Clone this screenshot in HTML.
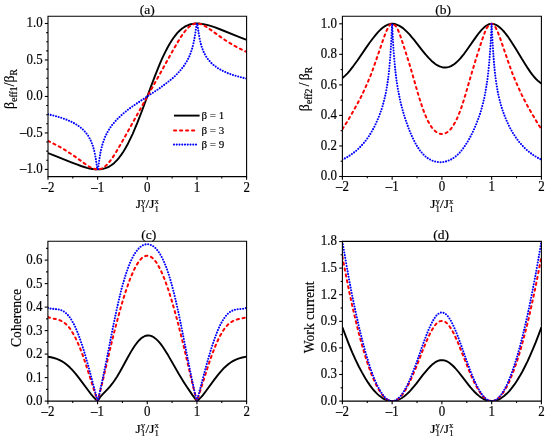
<!DOCTYPE html><html><head><meta charset="utf-8"><style>html,body{margin:0;padding:0;background:#fff;}svg{display:block;}text{font-family:"Liberation Serif", "DejaVu Serif", serif;fill:#000;stroke:#000;stroke-width:0.18px;}</style></head><body>
<svg width="550" height="439" viewBox="0 0 550 439">
<rect width="550" height="439" fill="#fff"/>
<defs>
<clipPath id="clipa"><rect x="48.00" y="15.30" width="198.60" height="161.30"/></clipPath>
<clipPath id="clipb"><rect x="342.40" y="15.30" width="199.00" height="161.20"/></clipPath>
<clipPath id="clipc"><rect x="47.90" y="240.30" width="198.70" height="160.80"/></clipPath>
<clipPath id="clipd"><rect x="342.40" y="240.40" width="199.00" height="160.70"/></clipPath>
</defs>
<g clip-path="url(#clipa)">
<path d="M48.0 153.1L55.2 155.9L71.3 162.3L77.5 164.7L81.0 166.0L84.2 167.0L87.0 167.8L89.7 168.5L92.7 169.0L95.5 169.3L98.1 169.4L100.6 169.2L103.1 168.8L105.3 168.2L107.6 167.3L109.6 166.3L110.8 165.5L112.0 164.7L114.3 162.9L115.5 161.7L116.8 160.4L119.0 157.8L121.2 154.9L123.5 151.5L125.7 147.8L128.2 143.2L130.4 138.7L132.7 133.8L134.9 128.7L137.4 122.7L142.1 110.5L151.3 85.7L155.2 75.3L159.2 65.4L161.2 60.7L162.9 56.9L165.2 52.2L167.2 48.3L169.4 44.2L171.4 41.0L173.4 38.0L175.6 35.1L177.6 32.7L179.8 30.5L182.1 28.6L183.3 27.7L184.5 26.9L185.8 26.2L187.0 25.6L188.3 25.1L189.8 24.5L191.0 24.2L192.5 23.9L194.0 23.7L195.4 23.5L196.9 23.5L198.4 23.5L201.7 23.9L204.6 24.4L207.9 25.2L211.3 26.2L215.1 27.4L221.8 30.0L238.2 36.6L246.6 39.8" stroke="#000" stroke-width="1.9" fill="none" stroke-linejoin="round"/>
<path d="M48.0 141.0L52.5 143.1L56.7 145.2L60.9 147.5L64.9 149.9L68.6 152.3L72.6 154.9L83.3 162.6L86.2 164.7L89.2 166.6L91.9 168.0L93.7 168.7L95.5 169.2L97.1 169.4L98.7 169.3L100.4 169.0L101.9 168.5L103.4 167.7L104.8 166.6L106.3 165.3L107.8 163.8L109.3 162.0L110.8 160.1L112.3 158.0L114.0 155.4L118.0 148.9L123.0 140.1L138.9 111.5L157.5 78.3L172.6 51.0L176.3 44.5L179.3 39.5L181.3 36.4L183.0 33.8L184.8 31.5L186.5 29.4L188.3 27.6L189.8 26.3L191.2 25.2L192.7 24.4L194.0 24.0L195.2 23.6L196.5 23.5L197.8 23.5L199.2 23.7L200.7 24.1L202.2 24.7L203.7 25.4L205.9 26.6L208.6 28.4L221.8 37.8L225.7 40.5L229.5 42.8L233.7 45.4L237.9 47.7L242.1 49.8L246.6 51.9" stroke="#f00" stroke-width="2" fill="none" stroke-dasharray="2.2 3.8" stroke-linecap="round"/>
<path d="M48.0 114.3L54.5 115.8L60.4 117.5L63.1 118.4L65.9 119.4L68.4 120.4L70.6 121.4L72.8 122.5L74.8 123.6L76.8 124.8L78.5 126.0L80.3 127.3L81.8 128.5L83.3 129.9L84.7 131.4L86.0 132.9L87.2 134.5L88.2 135.9L89.2 137.6L90.2 139.4L91.2 141.5L91.9 143.3L92.7 145.4L93.9 149.5L94.9 153.9L95.8 158.9L97.1 167.8L97.4 169.1L97.6 169.3L97.7 169.4L97.8 169.3L97.9 168.9L98.2 167.6L99.6 157.8L100.6 151.8L101.1 149.5L101.9 146.5L102.6 143.8L103.4 141.5L104.4 138.8L105.3 136.5L106.6 133.9L107.8 131.5L109.1 129.5L110.6 127.2L112.0 125.2L113.8 123.0L115.3 121.3L117.0 119.4L120.5 116.0L124.5 112.6L128.9 109.0L133.1 106.0L137.9 102.7L153.8 92.2L159.5 88.3L164.9 84.4L169.6 80.7L171.9 78.9L174.1 76.9L176.1 75.0L177.8 73.2L179.6 71.3L181.3 69.3L182.8 67.4L184.3 65.3L185.5 63.4L186.8 61.4L187.8 59.5L188.8 57.5L189.8 55.3L190.5 53.4L191.2 51.4L192.0 49.1L193.2 44.5L194.2 39.8L195.1 34.7L196.4 25.4L196.7 24.1L196.9 23.5L197.0 23.5L197.2 23.8L197.5 25.1L198.8 34.0L199.7 39.0L200.7 43.4L201.9 47.5L202.7 49.6L203.4 51.4L204.4 53.5L205.4 55.3L206.4 57.0L207.4 58.4L208.6 60.0L209.9 61.5L211.3 63.0L212.8 64.4L214.3 65.6L216.1 66.9L217.8 68.1L219.8 69.3L221.8 70.4L224.0 71.5L226.2 72.5L228.7 73.5L231.5 74.5L234.2 75.4L240.1 77.1L246.6 78.6" stroke="#00f" stroke-width="2.1" fill="none" stroke-dasharray="0 2.75" stroke-linecap="round"/>
</g>
<path d="M48.00 16.30 H246.60 V176.60 H48.00 Z" fill="none" stroke="#000" stroke-width="1.1"/>
<path d="M48.00 176.60V179.80" stroke="#000" stroke-width="1.1"/>
<path d="M97.65 176.60V179.80" stroke="#000" stroke-width="1.1"/>
<path d="M147.30 176.60V179.80" stroke="#000" stroke-width="1.1"/>
<path d="M196.95 176.60V179.80" stroke="#000" stroke-width="1.1"/>
<path d="M246.60 176.60V179.80" stroke="#000" stroke-width="1.1"/>
<path d="M72.83 176.60V178.40" stroke="#000" stroke-width="1.1"/>
<path d="M122.47 176.60V178.40" stroke="#000" stroke-width="1.1"/>
<path d="M172.12 176.60V178.40" stroke="#000" stroke-width="1.1"/>
<path d="M221.78 176.60V178.40" stroke="#000" stroke-width="1.1"/>
<path d="M44.80 169.40H48.00" stroke="#000" stroke-width="1.1"/>
<path d="M44.80 132.93H48.00" stroke="#000" stroke-width="1.1"/>
<path d="M44.80 96.45H48.00" stroke="#000" stroke-width="1.1"/>
<path d="M44.80 59.98H48.00" stroke="#000" stroke-width="1.1"/>
<path d="M44.80 23.50H48.00" stroke="#000" stroke-width="1.1"/>
<path d="M46.20 160.28H48.00" stroke="#000" stroke-width="1.1"/>
<path d="M46.20 151.16H48.00" stroke="#000" stroke-width="1.1"/>
<path d="M46.20 142.04H48.00" stroke="#000" stroke-width="1.1"/>
<path d="M46.20 123.81H48.00" stroke="#000" stroke-width="1.1"/>
<path d="M46.20 114.69H48.00" stroke="#000" stroke-width="1.1"/>
<path d="M46.20 105.57H48.00" stroke="#000" stroke-width="1.1"/>
<path d="M46.20 87.33H48.00" stroke="#000" stroke-width="1.1"/>
<path d="M46.20 78.21H48.00" stroke="#000" stroke-width="1.1"/>
<path d="M46.20 69.09H48.00" stroke="#000" stroke-width="1.1"/>
<path d="M46.20 50.86H48.00" stroke="#000" stroke-width="1.1"/>
<path d="M46.20 41.74H48.00" stroke="#000" stroke-width="1.1"/>
<path d="M46.20 32.62H48.00" stroke="#000" stroke-width="1.1"/>
<text transform="translate(48.00 191.50) scale(0.93 1)" font-size="13.9" text-anchor="middle">–2</text>
<text transform="translate(97.65 191.50) scale(0.93 1)" font-size="13.9" text-anchor="middle">–1</text>
<text transform="translate(147.30 191.50) scale(0.93 1)" font-size="13.9" text-anchor="middle">0</text>
<text transform="translate(196.95 191.50) scale(0.93 1)" font-size="13.9" text-anchor="middle">1</text>
<text transform="translate(246.60 191.50) scale(0.93 1)" font-size="13.9" text-anchor="middle">2</text>
<text transform="translate(42.60 173.30) scale(0.93 1)" font-size="13.9" text-anchor="end">–1.0</text>
<text transform="translate(42.60 136.83) scale(0.93 1)" font-size="13.9" text-anchor="end">–0.5</text>
<text transform="translate(42.60 100.35) scale(0.93 1)" font-size="13.9" text-anchor="end">0.0</text>
<text transform="translate(42.60 63.88) scale(0.93 1)" font-size="13.9" text-anchor="end">0.5</text>
<text transform="translate(42.60 27.40) scale(0.93 1)" font-size="13.9" text-anchor="end">1.0</text>
<text x="147.30" y="13.90" font-size="13.5" text-anchor="middle">(a)</text>
<text x="147.30" y="208.20" font-size="13.5" text-anchor="middle">J<tspan font-size="8.8" dy="-4.5">y</tspan><tspan font-size="8.8" dx="-4.3" dy="8">1</tspan><tspan dy="-3.5">/J</tspan><tspan font-size="8.8" dy="-4.5">x</tspan><tspan font-size="8.8" dx="-4.3" dy="8">1</tspan></text>
<text transform="translate(13.9 108.9) rotate(-90)" font-size="14">β<tspan font-size="9.6" dy="3">eff1</tspan><tspan dy="-3">/β</tspan><tspan font-size="9.6" dy="3">R</tspan></text>
<path d="M174.0 115.6H199.6" stroke="#000" stroke-width="1.9" fill="none" stroke-linejoin="round"/>
<text x="201.50" y="118.80" font-size="11">β = 1</text>
<path d="M174.0 130.4H196.5" stroke="#f00" stroke-width="2" fill="none" stroke-dasharray="2.2 3.8" stroke-linecap="round"/>
<text x="201.50" y="133.60" font-size="11">β = 3</text>
<path d="M174.0 144.6H197.5" stroke="#00f" stroke-width="2.1" fill="none" stroke-dasharray="0 2.75" stroke-linecap="round"/>
<text x="201.50" y="147.80" font-size="11">β = 9</text>
<g clip-path="url(#clipb)">
<path d="M342.4 78.1L344.9 75.9L347.5 73.3L350.0 70.4L352.5 67.2L355.0 63.8L357.6 60.2L366.0 47.9L369.4 43.0L372.8 38.5L376.1 34.3L377.8 32.4L379.5 30.6L382.0 28.3L383.7 27.0L385.4 25.9L387.1 25.0L387.9 24.6L389.6 24.1L391.3 23.8L392.8 23.8L394.7 24.0L396.5 24.6L398.4 25.3L400.3 26.4L402.2 27.6L404.0 29.1L405.9 30.8L407.8 32.7L409.7 34.7L411.5 36.9L414.1 39.9L422.2 50.3L425.3 54.2L428.4 57.7L431.6 60.9L433.5 62.5L435.3 64.0L437.2 65.2L438.5 65.9L440.3 66.7L442.2 67.2L444.1 67.5L445.3 67.5L446.6 67.4L447.8 67.2L449.1 66.8L451.0 66.1L452.2 65.4L454.1 64.2L455.4 63.2L457.2 61.6L458.5 60.4L460.4 58.4L462.2 56.1L464.1 53.8L467.2 49.5L474.1 39.6L476.6 36.1L479.1 32.8L481.6 29.9L482.9 28.6L484.1 27.4L485.4 26.3L486.6 25.5L487.9 24.8L489.1 24.2L490.4 23.9L491.6 23.8L492.5 23.8L494.2 24.2L495.9 24.8L497.6 25.8L499.2 27.0L500.9 28.4L502.6 30.1L504.3 32.0L506.0 34.1L507.7 36.3L511.0 41.2L515.3 47.9L522.0 59.1L525.4 64.5L527.9 68.4L530.4 72.1L532.1 74.4L533.8 76.5L536.3 79.3L538.0 80.9L538.9 81.6L540.6 82.9L541.4 83.4" stroke="#000" stroke-width="1.9" fill="none" stroke-linejoin="round"/>
<path d="M342.4 129.1L345.5 124.3L348.5 119.4L351.3 114.6L354.1 109.7L356.8 104.9L359.4 100.0L361.9 95.1L363.8 91.1L366.1 86.0L368.3 80.9L370.5 75.7L372.5 70.4L376.2 60.0L383.1 39.8L384.6 35.6L386.0 32.1L386.8 30.2L387.8 28.2L388.5 26.9L389.3 25.8L390.0 24.9L390.7 24.3L391.4 23.9L392.1 23.8L393.7 24.5L394.6 25.1L395.4 25.8L396.3 27.0L397.4 28.8L398.3 30.7L399.3 33.1L400.3 35.9L401.7 39.9L403.5 45.4L409.0 62.7L412.0 72.8L417.7 92.6L420.3 101.2L423.0 109.2L425.3 115.2L426.7 118.4L428.1 121.3L429.1 123.1L430.5 125.5L431.9 127.6L433.4 129.3L434.8 130.8L436.3 132.0L437.3 132.6L438.7 133.4L439.7 133.7L441.2 134.0L442.6 134.0L443.6 133.8L445.1 133.4L446.1 132.9L447.5 132.0L448.5 131.3L449.9 129.9L450.9 128.8L452.4 126.9L453.3 125.5L454.7 123.1L455.7 121.3L457.1 118.4L458.9 114.1L460.8 109.2L462.6 104.0L465.6 94.1L471.8 72.8L475.2 61.5L480.6 44.4L482.4 39.0L483.8 35.1L484.8 32.4L485.7 30.2L486.6 28.4L487.6 26.8L488.6 25.6L489.3 24.9L490.1 24.5L491.6 23.8L492.4 23.9L493.1 24.3L493.8 24.9L494.5 25.8L495.3 26.9L496.0 28.2L497.0 30.2L497.8 32.1L499.2 35.6L500.7 39.8L507.6 60.0L511.3 70.4L513.3 75.7L515.5 80.9L517.7 86.0L520.0 91.1L521.9 95.1L524.4 100.0L527.0 104.9L529.7 109.7L532.5 114.6L535.3 119.4L538.3 124.3L541.4 129.1" stroke="#f00" stroke-width="2" fill="none" stroke-dasharray="2.2 3.8" stroke-linecap="round"/>
<path d="M342.4 159.6L343.6 159.1L345.5 158.1L348.5 156.4L351.3 154.5L354.1 152.4L356.8 150.2L359.4 147.8L361.9 145.1L364.3 142.4L366.6 139.4L368.8 136.3L370.9 133.0L372.9 129.5L374.8 125.9L376.9 121.3L378.6 117.3L380.2 113.2L381.7 108.9L382.8 105.3L383.8 101.5L384.8 97.5L385.8 93.2L386.6 88.6L387.4 83.7L388.0 79.8L389.0 71.5L389.6 64.9L390.3 56.5L391.3 40.8L392.1 23.8L392.8 37.0L393.5 49.8L394.5 61.6L395.4 71.3L396.5 80.3L397.8 88.6L399.3 96.2L400.0 99.8L401.1 104.4L402.3 108.9L403.5 113.2L404.8 117.4L406.1 121.4L407.9 126.3L409.3 130.1L410.8 133.8L412.4 137.3L414.0 140.6L415.6 143.7L417.3 146.6L418.6 148.5L419.9 150.4L421.7 152.6L423.0 154.1L424.9 155.9L426.2 157.1L427.6 158.1L429.1 159.0L430.5 159.8L431.9 160.5L433.4 161.0L434.8 161.5L436.8 161.9L438.2 162.1L440.2 162.2L442.1 162.1L443.6 161.9L445.6 161.5L447.0 161.1L448.5 160.6L449.9 160.0L451.4 159.3L452.8 158.4L454.3 157.4L455.7 156.4L457.1 155.2L458.5 153.9L459.9 152.4L461.2 150.9L462.6 149.2L463.9 147.4L466.5 143.5L469.0 139.3L471.4 134.8L473.7 130.0L475.9 124.9L478.0 119.6L480.0 114.0L481.5 109.0L482.9 103.7L484.3 97.9L485.5 91.7L486.6 84.8L487.5 79.0L488.4 71.1L489.2 62.8L489.9 54.2L490.5 45.8L491.1 35.0L491.6 23.8L492.5 40.8L493.5 56.5L494.2 64.9L494.8 71.5L495.8 79.8L496.4 83.7L497.2 88.6L498.0 93.2L499.0 97.5L500.0 101.5L501.0 105.3L502.1 108.9L503.6 113.2L505.2 117.3L506.9 121.3L509.0 125.9L510.9 129.5L512.9 133.0L515.0 136.3L517.2 139.4L519.5 142.4L521.9 145.1L524.4 147.8L527.0 150.2L529.7 152.4L532.5 154.5L535.3 156.4L538.3 158.1L540.2 159.1L541.4 159.6" stroke="#00f" stroke-width="2.1" fill="none" stroke-dasharray="0 2.75" stroke-linecap="round"/>
</g>
<path d="M342.40 16.30 H541.40 V176.50 H342.40 Z" fill="none" stroke="#000" stroke-width="1.1"/>
<path d="M342.40 176.50V179.70" stroke="#000" stroke-width="1.1"/>
<path d="M392.15 176.50V179.70" stroke="#000" stroke-width="1.1"/>
<path d="M441.90 176.50V179.70" stroke="#000" stroke-width="1.1"/>
<path d="M491.65 176.50V179.70" stroke="#000" stroke-width="1.1"/>
<path d="M541.40 176.50V179.70" stroke="#000" stroke-width="1.1"/>
<path d="M367.27 176.50V178.30" stroke="#000" stroke-width="1.1"/>
<path d="M417.02 176.50V178.30" stroke="#000" stroke-width="1.1"/>
<path d="M466.77 176.50V178.30" stroke="#000" stroke-width="1.1"/>
<path d="M516.52 176.50V178.30" stroke="#000" stroke-width="1.1"/>
<path d="M339.20 176.50H342.40" stroke="#000" stroke-width="1.1"/>
<path d="M339.20 145.96H342.40" stroke="#000" stroke-width="1.1"/>
<path d="M339.20 115.42H342.40" stroke="#000" stroke-width="1.1"/>
<path d="M339.20 84.88H342.40" stroke="#000" stroke-width="1.1"/>
<path d="M339.20 54.34H342.40" stroke="#000" stroke-width="1.1"/>
<path d="M339.20 23.80H342.40" stroke="#000" stroke-width="1.1"/>
<path d="M340.60 161.23H342.40" stroke="#000" stroke-width="1.1"/>
<path d="M340.60 130.69H342.40" stroke="#000" stroke-width="1.1"/>
<path d="M340.60 100.15H342.40" stroke="#000" stroke-width="1.1"/>
<path d="M340.60 69.61H342.40" stroke="#000" stroke-width="1.1"/>
<path d="M340.60 39.07H342.40" stroke="#000" stroke-width="1.1"/>
<text transform="translate(342.40 191.40) scale(0.93 1)" font-size="13.9" text-anchor="middle">–2</text>
<text transform="translate(392.15 191.40) scale(0.93 1)" font-size="13.9" text-anchor="middle">–1</text>
<text transform="translate(441.90 191.40) scale(0.93 1)" font-size="13.9" text-anchor="middle">0</text>
<text transform="translate(491.65 191.40) scale(0.93 1)" font-size="13.9" text-anchor="middle">1</text>
<text transform="translate(541.40 191.40) scale(0.93 1)" font-size="13.9" text-anchor="middle">2</text>
<text transform="translate(337.00 180.40) scale(0.93 1)" font-size="13.9" text-anchor="end">0.0</text>
<text transform="translate(337.00 149.86) scale(0.93 1)" font-size="13.9" text-anchor="end">0.2</text>
<text transform="translate(337.00 119.32) scale(0.93 1)" font-size="13.9" text-anchor="end">0.4</text>
<text transform="translate(337.00 88.78) scale(0.93 1)" font-size="13.9" text-anchor="end">0.6</text>
<text transform="translate(337.00 58.24) scale(0.93 1)" font-size="13.9" text-anchor="end">0.8</text>
<text transform="translate(337.00 27.70) scale(0.93 1)" font-size="13.9" text-anchor="end">1.0</text>
<text x="443.20" y="13.90" font-size="13.5" text-anchor="middle">(b)</text>
<text x="441.90" y="208.10" font-size="13.5" text-anchor="middle">J<tspan font-size="8.8" dy="-4.5">y</tspan><tspan font-size="8.8" dx="-4.3" dy="8">1</tspan><tspan dy="-3.5">/J</tspan><tspan font-size="8.8" dy="-4.5">x</tspan><tspan font-size="8.8" dx="-4.3" dy="8">1</tspan></text>
<text transform="translate(308.6 111.2) rotate(-90)" font-size="14">β<tspan font-size="9.6" dy="3">eff2</tspan><tspan dy="-3" dx="-1.2"> /</tspan><tspan dx="-1.2"> β</tspan><tspan font-size="9.6" dy="3">R</tspan></text>
<g clip-path="url(#clipc)">
<path d="M47.9 356.8L51.0 357.3L54.0 358.0L56.8 358.9L59.1 359.8L61.2 360.9L63.9 362.5L65.9 364.0L68.3 366.0L70.2 367.8L72.0 369.7L75.5 373.6L77.5 376.1L79.8 379.1L87.9 390.0L91.2 394.3L93.0 396.5L94.6 398.2L96.1 399.8L97.6 401.1L99.1 398.7L100.8 396.3L102.8 394.1L107.4 389.3L109.9 386.6L112.2 383.7L114.7 380.2L117.0 376.7L119.8 372.0L122.3 367.5L128.0 357.0L131.2 351.4L133.0 348.4L134.4 346.2L135.9 344.2L137.3 342.4L139.2 340.2L140.7 338.8L141.6 338.0L142.6 337.3L144.1 336.5L145.0 336.0L146.0 335.7L147.5 335.5L149.0 335.5L149.9 335.6L150.9 335.9L152.4 336.5L153.8 337.3L155.3 338.4L156.7 339.6L158.2 341.1L159.6 342.7L161.0 344.4L162.9 347.0L165.6 351.2L168.3 355.6L179.0 374.2L184.0 382.4L186.8 386.8L189.6 390.9L192.5 395.1L196.9 401.1L198.3 400.0L199.6 398.7L201.1 397.1L202.7 395.3L206.0 391.0L214.3 379.6L218.2 374.6L220.3 372.1L222.5 369.6L224.3 367.7L226.2 366.0L228.6 364.0L230.6 362.5L233.3 360.9L235.4 359.8L237.7 358.9L240.0 358.2L242.3 357.5L246.6 356.6" stroke="#000" stroke-width="1.9" fill="none" stroke-linejoin="round"/>
<path d="M47.9 317.0L49.1 317.5L51.0 318.1L56.8 319.3L59.1 320.0L61.2 320.9L63.3 322.1L64.9 323.2L65.9 324.1L66.9 325.0L68.3 326.6L69.3 327.7L70.7 329.6L72.9 333.2L75.1 337.1L77.5 342.2L80.2 348.6L82.7 355.2L84.7 360.9L87.1 368.2L94.9 392.8L97.6 401.1L99.3 394.7L101.4 386.5L110.5 347.4L112.9 337.4L115.5 327.2L118.2 316.9L120.6 308.1L123.1 299.5L125.3 292.6L128.0 284.7L130.2 278.6L132.6 273.0L134.9 268.1L136.3 265.5L137.3 263.9L138.7 261.7L139.7 260.5L141.2 258.8L142.1 257.9L143.1 257.2L144.1 256.6L145.5 256.0L147.0 255.8L148.0 255.8L149.5 256.2L150.4 256.6L151.9 257.5L153.3 258.8L154.8 260.5L155.8 261.7L157.2 263.9L158.6 266.3L160.1 269.0L161.5 272.0L162.9 275.2L164.3 278.6L166.1 283.4L168.8 291.2L171.8 300.9L174.7 311.0L177.5 321.3L180.1 331.6L183.3 344.6L193.3 387.3L195.3 395.2L196.9 401.1L199.6 392.8L207.4 368.2L209.8 360.9L211.8 355.2L214.3 348.6L217.0 342.2L219.4 337.1L221.6 333.2L223.8 329.6L225.2 327.7L226.2 326.6L227.6 325.0L228.6 324.1L229.6 323.2L231.2 322.1L233.3 320.9L235.4 320.0L237.7 319.3L243.5 318.1L245.4 317.5L246.6 317.0" stroke="#f00" stroke-width="2" fill="none" stroke-dasharray="2.2 3.8" stroke-linecap="round"/>
<path d="M47.9 307.9L49.1 308.3L51.0 308.7L56.8 309.2L59.1 309.6L60.2 309.8L61.2 310.2L62.3 310.7L63.3 311.2L64.9 312.3L65.9 313.1L66.9 314.0L68.3 315.6L69.3 316.8L70.7 318.7L72.0 320.9L73.4 323.3L74.7 325.8L75.9 328.5L78.3 334.3L80.9 341.6L83.4 349.1L85.9 357.6L88.5 366.7L97.6 401.1L99.0 395.6L100.3 389.8L103.2 376.4L106.0 362.8L112.9 327.6L116.6 309.9L118.6 301.2L120.2 294.4L121.8 287.9L123.6 281.7L125.7 274.6L128.0 268.1L130.2 262.4L132.1 258.4L133.0 256.6L134.4 254.1L135.4 252.6L136.8 250.7L137.8 249.5L139.2 248.0L140.2 247.1L141.6 246.0L143.1 245.2L144.1 244.8L145.0 244.5L146.5 244.2L147.5 244.2L148.5 244.3L149.5 244.5L150.4 244.8L151.9 245.4L153.3 246.3L154.8 247.5L155.8 248.4L156.7 249.5L158.2 251.3L159.6 253.4L161.0 255.7L162.4 258.4L163.8 261.3L165.2 264.6L167.0 269.3L169.2 275.9L170.5 280.2L171.8 284.8L174.3 294.4L176.7 304.7L179.0 315.2L181.2 325.9L188.8 364.2L191.5 377.5L194.3 390.5L196.9 401.1L206.0 366.7L208.6 357.6L211.1 349.1L213.6 341.6L216.2 334.3L218.6 328.5L219.8 325.8L221.1 323.3L222.5 320.9L223.8 318.7L225.2 316.8L226.2 315.6L227.6 314.0L228.6 313.1L229.6 312.3L231.2 311.2L232.2 310.7L233.3 310.2L234.3 309.8L235.4 309.6L237.7 309.2L243.5 308.7L245.4 308.3L246.6 307.9" stroke="#00f" stroke-width="2.1" fill="none" stroke-dasharray="0 2.75" stroke-linecap="round"/>
</g>
<path d="M47.90 241.30 H246.60 V401.10 H47.90 Z" fill="none" stroke="#000" stroke-width="1.1"/>
<path d="M47.90 401.10V404.30" stroke="#000" stroke-width="1.1"/>
<path d="M97.57 401.10V404.30" stroke="#000" stroke-width="1.1"/>
<path d="M147.25 401.10V404.30" stroke="#000" stroke-width="1.1"/>
<path d="M196.92 401.10V404.30" stroke="#000" stroke-width="1.1"/>
<path d="M246.60 401.10V404.30" stroke="#000" stroke-width="1.1"/>
<path d="M72.74 401.10V402.90" stroke="#000" stroke-width="1.1"/>
<path d="M122.41 401.10V402.90" stroke="#000" stroke-width="1.1"/>
<path d="M172.09 401.10V402.90" stroke="#000" stroke-width="1.1"/>
<path d="M221.76 401.10V402.90" stroke="#000" stroke-width="1.1"/>
<path d="M44.70 401.10H47.90" stroke="#000" stroke-width="1.1"/>
<path d="M44.70 377.60H47.90" stroke="#000" stroke-width="1.1"/>
<path d="M44.70 354.10H47.90" stroke="#000" stroke-width="1.1"/>
<path d="M44.70 330.60H47.90" stroke="#000" stroke-width="1.1"/>
<path d="M44.70 307.10H47.90" stroke="#000" stroke-width="1.1"/>
<path d="M44.70 283.60H47.90" stroke="#000" stroke-width="1.1"/>
<path d="M44.70 260.10H47.90" stroke="#000" stroke-width="1.1"/>
<path d="M46.10 389.35H47.90" stroke="#000" stroke-width="1.1"/>
<path d="M46.10 365.85H47.90" stroke="#000" stroke-width="1.1"/>
<path d="M46.10 342.35H47.90" stroke="#000" stroke-width="1.1"/>
<path d="M46.10 318.85H47.90" stroke="#000" stroke-width="1.1"/>
<path d="M46.10 295.35H47.90" stroke="#000" stroke-width="1.1"/>
<path d="M46.10 271.85H47.90" stroke="#000" stroke-width="1.1"/>
<path d="M46.10 248.35H47.90" stroke="#000" stroke-width="1.1"/>
<text transform="translate(47.90 416.00) scale(0.93 1)" font-size="13.9" text-anchor="middle">–2</text>
<text transform="translate(97.57 416.00) scale(0.93 1)" font-size="13.9" text-anchor="middle">–1</text>
<text transform="translate(147.25 416.00) scale(0.93 1)" font-size="13.9" text-anchor="middle">0</text>
<text transform="translate(196.92 416.00) scale(0.93 1)" font-size="13.9" text-anchor="middle">1</text>
<text transform="translate(246.60 416.00) scale(0.93 1)" font-size="13.9" text-anchor="middle">2</text>
<text transform="translate(42.50 405.00) scale(0.93 1)" font-size="13.9" text-anchor="end">0.0</text>
<text transform="translate(42.50 381.50) scale(0.93 1)" font-size="13.9" text-anchor="end">0.1</text>
<text transform="translate(42.50 358.00) scale(0.93 1)" font-size="13.9" text-anchor="end">0.2</text>
<text transform="translate(42.50 334.50) scale(0.93 1)" font-size="13.9" text-anchor="end">0.3</text>
<text transform="translate(42.50 311.00) scale(0.93 1)" font-size="13.9" text-anchor="end">0.4</text>
<text transform="translate(42.50 287.50) scale(0.93 1)" font-size="13.9" text-anchor="end">0.5</text>
<text transform="translate(42.50 264.00) scale(0.93 1)" font-size="13.9" text-anchor="end">0.6</text>
<text x="148.75" y="238.90" font-size="13.5" text-anchor="middle">(c)</text>
<text x="147.25" y="432.70" font-size="13.5" text-anchor="middle">J<tspan font-size="8.8" dy="-4.5">y</tspan><tspan font-size="8.8" dx="-4.3" dy="8">1</tspan><tspan dy="-3.5">/J</tspan><tspan font-size="8.8" dy="-4.5">x</tspan><tspan font-size="8.8" dx="-4.3" dy="8">1</tspan></text>
<text transform="translate(21.0 317.9) rotate(-90)" font-size="13.6" text-anchor="middle">Coherence</text>
<g clip-path="url(#clipd)">
<path d="M342.4 327.4L345.9 336.7L349.1 344.9L352.3 352.6L355.6 359.8L358.8 366.5L362.1 372.6L365.3 378.2L368.3 382.9L370.0 385.4L371.5 387.4L373.0 389.3L374.5 391.0L376.0 392.6L377.5 394.1L379.0 395.4L380.5 396.6L382.0 397.7L383.4 398.6L384.9 399.4L386.4 400.0L387.9 400.5L389.4 400.9L390.8 401.0L392.1 401.1L393.8 401.0L395.4 400.8L396.9 400.4L398.6 399.7L400.1 399.0L401.9 398.0L403.6 396.8L405.3 395.5L407.1 393.9L408.8 392.3L410.6 390.4L412.5 388.2L416.3 383.6L422.7 375.2L425.5 371.8L428.2 368.6L430.7 366.0L432.2 364.6L433.7 363.4L435.2 362.3L436.4 361.6L437.9 360.9L439.2 360.5L440.4 360.2L441.7 360.1L442.9 360.2L444.1 360.4L445.4 360.7L446.9 361.3L448.1 362.0L449.6 363.0L451.1 364.2L452.6 365.5L455.1 368.0L458.1 371.5L460.8 374.9L468.3 384.6L470.5 387.3L472.5 389.6L474.7 392.0L477.0 394.2L479.0 395.9L481.0 397.4L483.2 398.8L485.4 399.8L487.7 400.6L488.9 400.9L490.1 401.0L491.2 401.1L492.3 401.1L493.5 401.0L494.6 400.8L496.9 400.2L499.1 399.3L500.4 398.6L501.6 397.8L504.1 396.0L506.6 393.8L509.1 391.3L511.5 388.3L514.3 384.7L516.8 381.0L519.5 376.6L522.0 372.2L524.7 367.0L527.5 361.4L530.2 355.4L532.9 349.1L535.7 342.4L538.4 335.4L541.4 327.4" stroke="#000" stroke-width="1.9" fill="none" stroke-linejoin="round"/>
<path d="M342.4 256.7L345.9 275.0L349.1 291.1L352.3 306.1L355.6 320.2L358.8 333.3L362.1 345.4L365.3 356.3L368.3 365.5L370.0 370.3L371.5 374.3L373.0 377.9L374.5 381.3L376.0 384.5L377.5 387.4L379.0 390.0L380.5 392.3L382.0 394.4L383.4 396.2L384.9 397.7L386.4 399.0L387.9 399.9L389.4 400.6L390.8 401.0L392.1 401.1L392.9 401.1L393.8 400.9L394.6 400.7L395.4 400.4L396.9 399.7L398.6 398.4L400.1 397.0L401.9 395.1L403.6 392.8L405.3 390.1L407.1 387.1L408.8 383.8L410.6 380.2L412.5 375.8L416.3 366.9L422.7 350.4L425.5 343.6L428.2 337.4L430.7 332.3L432.2 329.6L433.7 327.2L435.2 325.1L436.4 323.7L437.9 322.4L439.2 321.6L440.4 321.1L441.7 320.9L442.9 321.0L444.1 321.3L445.4 322.0L446.9 323.2L448.1 324.5L449.6 326.5L451.1 328.7L452.6 331.3L453.8 333.7L455.1 336.3L458.1 343.0L460.8 349.8L468.3 368.7L470.5 374.1L472.5 378.6L474.7 383.3L477.0 387.5L479.0 390.9L481.0 393.8L482.2 395.4L483.2 396.5L484.4 397.7L485.4 398.6L486.7 399.5L487.7 400.1L488.9 400.6L490.1 400.9L491.2 401.1L492.3 401.1L493.5 400.9L494.6 400.5L495.6 400.1L496.9 399.3L497.9 398.6L499.1 397.5L500.4 396.2L501.6 394.7L502.8 393.1L504.1 391.2L505.3 389.1L506.6 386.9L507.8 384.5L509.1 381.9L511.5 376.1L514.3 369.0L516.8 361.8L519.5 353.1L522.0 344.5L524.7 334.3L527.5 323.4L530.2 311.7L532.9 299.3L535.7 286.2L538.4 272.4L541.4 256.7" stroke="#f00" stroke-width="2" fill="none" stroke-dasharray="2.2 3.8" stroke-linecap="round"/>
<path d="M342.4 241.6L345.9 261.8L349.1 279.6L352.3 296.2L355.6 311.8L358.8 326.2L362.1 339.5L365.3 351.6L368.3 361.7L370.0 367.1L371.5 371.4L373.0 375.5L374.5 379.3L376.0 382.7L377.5 385.9L379.0 388.8L380.5 391.4L382.0 393.7L383.4 395.7L384.9 397.4L386.4 398.8L387.9 399.8L389.4 400.6L390.8 401.0L392.1 401.1L392.9 401.1L393.8 400.9L394.6 400.7L395.4 400.4L396.9 399.5L397.6 399.0L398.6 398.1L400.1 396.6L401.9 394.4L403.6 391.9L405.3 388.9L407.1 385.6L408.8 382.0L410.6 378.0L412.5 373.2L416.3 363.3L422.7 345.1L425.5 337.6L428.2 330.7L430.7 325.1L432.2 322.1L433.7 319.5L435.2 317.2L436.4 315.6L437.9 314.2L439.2 313.3L440.4 312.7L441.7 312.5L442.9 312.6L444.1 313.0L445.4 313.8L446.1 314.4L446.9 315.1L448.1 316.5L449.6 318.7L451.1 321.2L452.6 324.0L453.8 326.7L455.1 329.5L458.1 337.0L460.8 344.4L468.3 365.3L470.5 371.3L472.5 376.2L474.7 381.4L477.0 386.1L479.0 389.8L481.0 393.0L482.2 394.8L483.2 396.0L484.4 397.4L485.4 398.3L486.7 399.3L487.7 400.0L488.9 400.6L490.1 400.9L491.2 401.1L492.3 401.1L493.5 400.9L494.6 400.5L495.6 400.0L496.9 399.2L497.9 398.3L499.1 397.1L500.4 395.7L501.6 394.1L502.8 392.2L504.1 390.2L505.3 387.9L506.6 385.4L507.8 382.7L509.1 379.9L511.5 373.5L514.3 365.6L516.8 357.7L519.5 348.1L522.0 338.6L524.7 327.3L527.5 315.2L530.2 302.3L532.9 288.7L535.7 274.2L538.4 259.0L541.4 241.6" stroke="#00f" stroke-width="2.1" fill="none" stroke-dasharray="0 2.75" stroke-linecap="round"/>
</g>
<path d="M342.40 241.40 H541.40 V401.10 H342.40 Z" fill="none" stroke="#000" stroke-width="1.1"/>
<path d="M342.40 401.10V404.30" stroke="#000" stroke-width="1.1"/>
<path d="M392.15 401.10V404.30" stroke="#000" stroke-width="1.1"/>
<path d="M441.90 401.10V404.30" stroke="#000" stroke-width="1.1"/>
<path d="M491.65 401.10V404.30" stroke="#000" stroke-width="1.1"/>
<path d="M541.40 401.10V404.30" stroke="#000" stroke-width="1.1"/>
<path d="M367.27 401.10V402.90" stroke="#000" stroke-width="1.1"/>
<path d="M417.02 401.10V402.90" stroke="#000" stroke-width="1.1"/>
<path d="M466.77 401.10V402.90" stroke="#000" stroke-width="1.1"/>
<path d="M516.52 401.10V402.90" stroke="#000" stroke-width="1.1"/>
<path d="M339.20 401.10H342.40" stroke="#000" stroke-width="1.1"/>
<path d="M339.20 374.50H342.40" stroke="#000" stroke-width="1.1"/>
<path d="M339.20 347.91H342.40" stroke="#000" stroke-width="1.1"/>
<path d="M339.20 321.32H342.40" stroke="#000" stroke-width="1.1"/>
<path d="M339.20 294.72H342.40" stroke="#000" stroke-width="1.1"/>
<path d="M339.20 268.12H342.40" stroke="#000" stroke-width="1.1"/>
<path d="M339.20 241.53H342.40" stroke="#000" stroke-width="1.1"/>
<path d="M340.60 387.80H342.40" stroke="#000" stroke-width="1.1"/>
<path d="M340.60 361.21H342.40" stroke="#000" stroke-width="1.1"/>
<path d="M340.60 334.61H342.40" stroke="#000" stroke-width="1.1"/>
<path d="M340.60 308.02H342.40" stroke="#000" stroke-width="1.1"/>
<path d="M340.60 281.42H342.40" stroke="#000" stroke-width="1.1"/>
<path d="M340.60 254.83H342.40" stroke="#000" stroke-width="1.1"/>
<text transform="translate(342.40 416.00) scale(0.93 1)" font-size="13.9" text-anchor="middle">–2</text>
<text transform="translate(392.15 416.00) scale(0.93 1)" font-size="13.9" text-anchor="middle">–1</text>
<text transform="translate(441.90 416.00) scale(0.93 1)" font-size="13.9" text-anchor="middle">0</text>
<text transform="translate(491.65 416.00) scale(0.93 1)" font-size="13.9" text-anchor="middle">1</text>
<text transform="translate(541.40 416.00) scale(0.93 1)" font-size="13.9" text-anchor="middle">2</text>
<text transform="translate(337.00 405.00) scale(0.93 1)" font-size="13.9" text-anchor="end">0.0</text>
<text transform="translate(337.00 378.40) scale(0.93 1)" font-size="13.9" text-anchor="end">0.3</text>
<text transform="translate(337.00 351.81) scale(0.93 1)" font-size="13.9" text-anchor="end">0.6</text>
<text transform="translate(337.00 325.22) scale(0.93 1)" font-size="13.9" text-anchor="end">0.9</text>
<text transform="translate(337.00 298.62) scale(0.93 1)" font-size="13.9" text-anchor="end">1.2</text>
<text transform="translate(337.00 272.02) scale(0.93 1)" font-size="13.9" text-anchor="end">1.5</text>
<text transform="translate(337.00 245.43) scale(0.93 1)" font-size="13.9" text-anchor="end">1.8</text>
<text x="441.20" y="239.00" font-size="13.5" text-anchor="middle">(d)</text>
<text x="441.90" y="432.70" font-size="13.5" text-anchor="middle">J<tspan font-size="8.8" dy="-4.5">y</tspan><tspan font-size="8.8" dx="-4.3" dy="8">1</tspan><tspan dy="-3.5">/J</tspan><tspan font-size="8.8" dy="-4.5">x</tspan><tspan font-size="8.8" dx="-4.3" dy="8">1</tspan></text>
<text transform="translate(314.2 317.3) rotate(-90)" font-size="13.6" text-anchor="middle">Work current</text>
</svg></body></html>
